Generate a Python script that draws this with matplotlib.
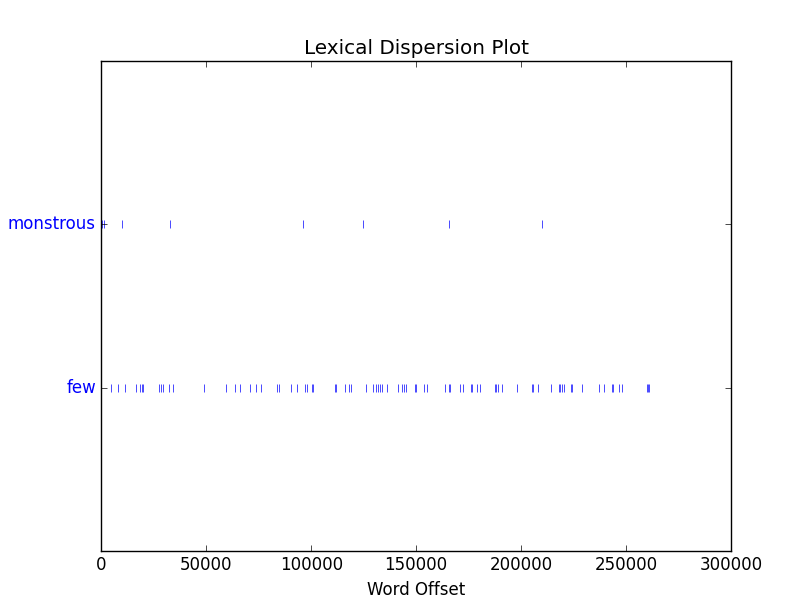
import matplotlib
matplotlib.use("Agg")
import matplotlib.pyplot as plt

plt.style.use('classic')

# words in plotting order (bottom to top)
words = ['few', 'monstrous']

few_offsets = [4630, 7780, 11110, 16220, 18270, 19080, 19700, 27330, 28480, 29240,
               31960, 33870, 48800, 59480, 63780, 65830, 70930, 73790, 76180, 83620,
               84570, 90300, 93160, 97170, 97930, 100170, 100790, 111470, 111950,
               116240, 117960, 118910, 125930, 129410, 131030, 131990, 132940, 133890,
               136090, 141330, 143240, 144200, 145150, 149450, 149920, 153740, 155170,
               163760, 165660, 166140, 170910, 172530, 176350, 176830, 179210, 180640,
               187600, 188270, 189220, 191130, 198100, 205250, 205730, 208120, 214320,
               218130, 218800, 219750, 220370, 224050, 224330, 229100, 237210, 239600,
               243410, 243750, 246750, 248180, 259820, 260300, 260780]
monstrous_offsets = [255, 1100, 9680, 32770, 96210, 124640, 165660, 210030]

offsets = [few_offsets, monstrous_offsets]

fig = plt.figure(figsize=(8.12, 6.12), dpi=100)
ax = fig.add_subplot(111)

for i, offs in enumerate(offsets):
    ax.plot(offs, [i] * len(offs), 'b|', scalex=0.1)

ax.set_yticks(range(len(words)))
ax.set_yticklabels(words, color='b')
ax.set_ylim(-1, len(words))
ax.set_xlim(0, 300000)
ax.set_title('Lexical Dispersion Plot')
ax.set_xlabel('Word Offset')

fig.savefig('out.png', dpi=100)
